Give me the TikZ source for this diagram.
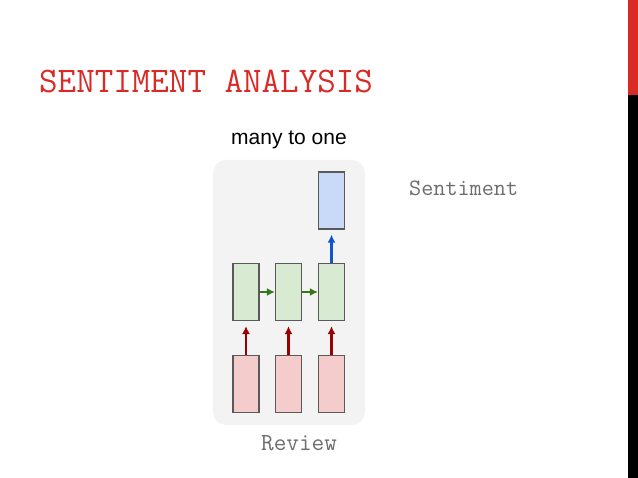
\documentclass[tikz,border=0pt]{standalone}
\usepackage{fontspec}
\setmainfont{Liberation Sans}
\usepackage{tikz}
\usetikzlibrary{arrows.meta, calc}
\usetikzlibrary{positioning}
\definecolor{titlered}{RGB}{218,42,38}
\definecolor{textgray}{RGB}{110,110,110}
\definecolor{panelgray}{RGB}{243,243,243}
\definecolor{boxline}{RGB}{89,89,89}
\definecolor{inpink}{RGB}{244,204,204}
\definecolor{hidgreen}{RGB}{217,234,211}
\definecolor{outblue}{RGB}{201,218,248}
\definecolor{arrred}{RGB}{153,0,0}
\definecolor{arrgreen}{RGB}{56,118,29}
\definecolor{arrblue}{RGB}{17,85,204}
\begin{document}
\begin{tikzpicture}[x=1pt, y=-1pt,
    cell/.style={draw=boxline, line width=1.2pt, inner sep=0pt, minimum width=26pt, minimum height=57pt},
    link/.style={line width=2.1pt, -{Latex[length=8pt, width=8pt]}}]
                    \useasboundingbox (0,0) rectangle (638,478);
                    \fill[white] (0,0) rectangle (638,478);
                    \fill[titlered] (628,0) rectangle (638,95);
                    \fill[black] (628,95) rectangle (638,478);
                    \node[anchor=base west, inner sep=0pt, text=titlered, font=\ttfamily\fontsize{36}{38}\selectfont] (title) at (39,93) {SENTIMENT ANALYSIS};
                    \node[anchor=base west, inner sep=0pt, font=\fontsize{21}{24}\selectfont] (caption) at (231,145) {many to one};
                    \fill[panelgray, rounded corners=13pt] (213,160) rectangle (365,425);
                    % input row
                    \node[cell, fill=inpink] (x1) at (246,384) {};
                    \node[cell, fill=inpink] (x2) at (288.5,384) {};
                    \node[cell, fill=inpink] (x3) at (331.5,384) {};
                    % hidden row
                    \node[cell, fill=hidgreen] (h1) at (246,292) {};
                    \node[cell, fill=hidgreen] (h2) at (288.5,292) {};
                    \node[cell, fill=hidgreen] (h3) at (331.5,292) {};
                    % output
                    \node[cell, fill=outblue] (y3) at (331.5,200.5) {};
                    \foreach \i in {1,2,3}
                        \draw[link, arrred, shorten >=5pt] (x\i.north) -- (h\i.south);
                    \draw[link, arrgreen] (h1.east) -- (h2.west);
                    \draw[link, arrgreen] (h2.east) -- (h3.west);
                    \draw[link, arrblue, shorten >=5pt] (h3.north) -- (y3.south);
                    \node[anchor=base west, inner sep=0pt, text=textgray, font=\ttfamily\fontsize{23.5}{25}\selectfont] (sentiment) at (409,196) {Sentiment};
                    \node[anchor=base west, inner sep=0pt, text=textgray, font=\ttfamily\fontsize{24.5}{26}\selectfont] (review) at (261,451) {Review};
                \end{tikzpicture}
\end{document}
